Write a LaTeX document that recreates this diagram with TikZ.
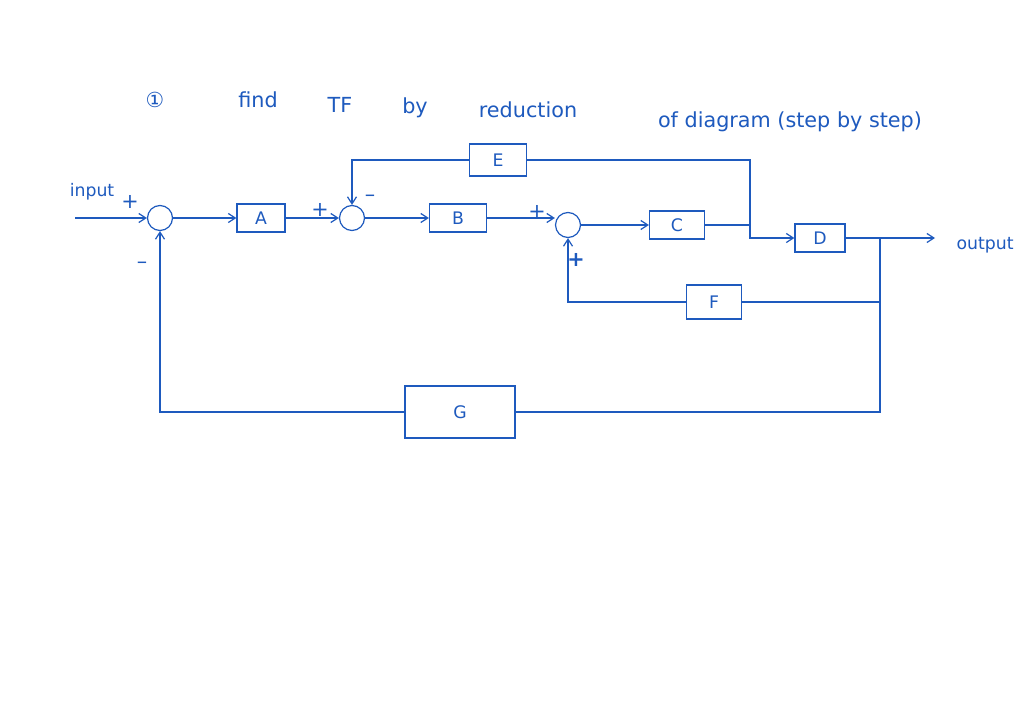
\documentclass[tikz,border=0pt]{standalone}
\usepackage{fontspec}
\setmainfont{DejaVu Sans}
\usetikzlibrary{arrows.meta}
\definecolor{ink}{RGB}{30,90,190}
\begin{document}
\begin{tikzpicture}[x=1pt,y=-1pt,
  ink line/.style={draw=ink,line width=1.2pt},
  blk/.style={draw=ink,line width=1.2pt,minimum height=28pt,inner sep=0pt,text=ink,font=\LARGE},
  sumj/.style={circle,draw=ink,line width=1.2pt,minimum size=25pt,inner sep=0pt},
  lbl/.style={text=ink,font=\huge},
  arr/.style={ink line,-{Straight Barb[length=7pt,width=9pt]}}]
\useasboundingbox (0,0) rectangle (1024,722);
\fill[white] (0,0) rectangle (1024,722);
% title
\node[lbl] (t1) at (155,100) {①};
\node[lbl] (t2) at (258,100) {find};
\node[lbl] (t3) at (340,105) {TF};
\node[lbl] (t4) at (415,108) {by};
\node[lbl] (t5) at (528,110) {reduction};
\node[lbl] (t6) at (790,122) {of diagram (step by step)};
% blocks
\node[sumj] (s1) at (160,218) {};
\node[blk,minimum width=48pt] (A) at (261,218) {A};
\node[sumj] (s2) at (352,218) {};
\node[blk,minimum width=57pt] (B) at (458,218) {B};
\node[sumj] (s3) at (568,225) {};
\node[blk,minimum width=55pt] (C) at (677,225) {C};
\node[blk,minimum width=50pt] (D) at (820,238) {D};
\node[blk,minimum width=57pt,minimum height=32pt] (E) at (498,160) {E};
\node[blk,minimum width=55pt,minimum height=34pt] (F) at (714,302) {F};
\node[blk,minimum width=110pt,minimum height=52pt] (G) at (460,412) {G};
\coordinate (in) at (75,218);
\coordinate (out) at (935,238);
\coordinate (tap) at (880,238);
\coordinate (eTap) at (750,225);
% forward path
\draw[arr] (in) -- (s1);
\draw[arr] (s1) -- (A);
\draw[arr] (A) -- (s2);
\draw[arr] (s2) -- (B);
\draw[arr] (B.east) -- (B.east -| s3.west);
\draw[arr] (s3) -- (C);
\draw[arr] (C.east) -- (eTap) |- (D.west);
\draw[arr] (D) -- (out);
% E path
\draw[ink line] (eTap) |- (E.east);
\draw[arr] (E.west) -| (s2.north);
% F loop
\draw[ink line] (tap) |- (F.east);
\draw[arr] (F.west) -| (s3.south);
% G loop
\draw[ink line] (tap) |- (G.east);
\draw[arr] (G.west) -| (s1.south);
% labels
\node[text=ink,font=\LARGE] (lin) at (92,192) {input};
\node[text=ink,font=\LARGE] (lout) at (985,245) {output};
\node[lbl] (p1) at (130,202) {+};
\node[lbl] (m1) at (142,265) {–};
\node[lbl] (p2) at (320,210) {+};
\node[lbl] (m2) at (370,198) {–};
\node[lbl] (p3) at (537,212) {+};
\node[lbl,font=\huge\bfseries] (p4) at (576,260) {+};
\end{tikzpicture}
\end{document}
